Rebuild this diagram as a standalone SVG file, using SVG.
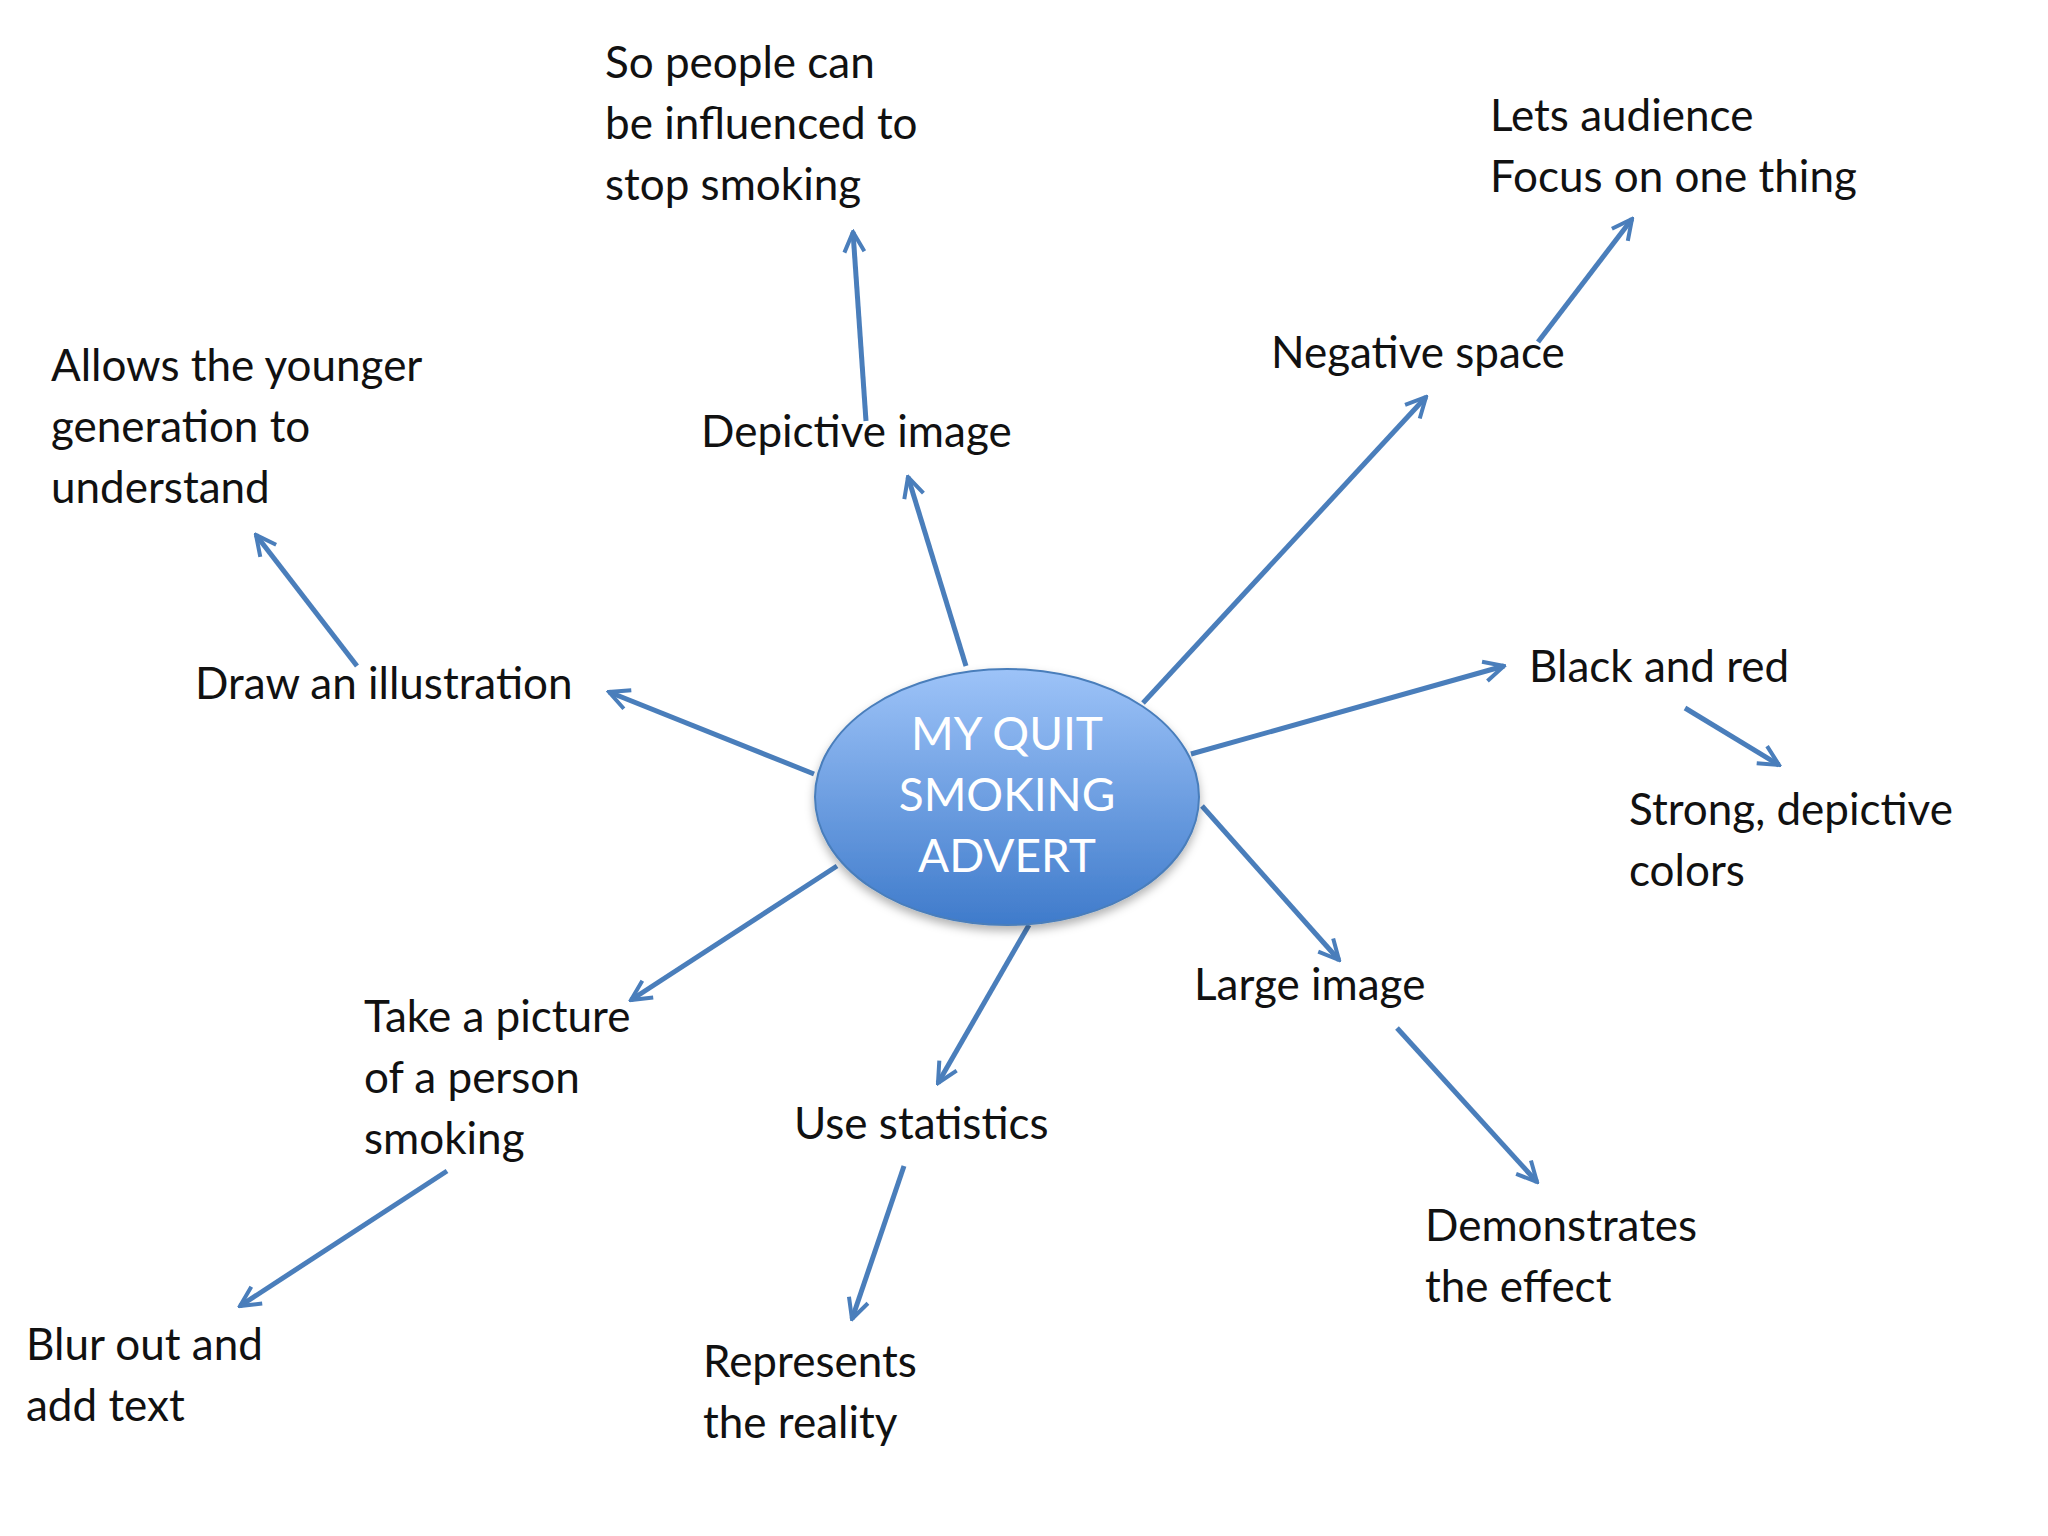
<svg xmlns="http://www.w3.org/2000/svg" width="2048" height="1536" viewBox="0 0 2048 1536">
<defs>
<marker id="ah" viewBox="0 0 10 10" refX="9" refY="5" markerWidth="5" markerHeight="5" orient="auto" markerUnits="strokeWidth">
<path d="M1,1 L9,5 L1,9" fill="none" stroke="#4A7EBB" stroke-width="1.6" stroke-linejoin="miter"/>
</marker>
<linearGradient id="g" x1="0" y1="0" x2="0" y2="1">
<stop offset="0" stop-color="#9DC3F8"/>
<stop offset="1" stop-color="#3F7BCB"/>
</linearGradient>
<filter id="sh" x="-20%" y="-20%" width="140%" height="150%"><feDropShadow dx="0" dy="5" stdDeviation="5" flood-opacity="0.3"/></filter>
</defs>
<style>
text{font-family:Lato,"Open Sans","Liberation Sans",sans-serif;font-size:44px;fill:#111}
.c{fill:#fff;text-anchor:middle;font-size:46px}
.l{stroke:#4A7EBB;stroke-width:5;fill:none;marker-end:url(#ah)}
</style>
<rect width="2048" height="1536" fill="#fff"/>
<g id="connectors">
<line class="l" x1="866" y1="421" x2="853" y2="232"/>
<line class="l" x1="966" y1="666" x2="908" y2="477"/>
<line class="l" x1="1538" y1="342" x2="1632" y2="219"/>
<line class="l" x1="1143" y1="703" x2="1426" y2="397"/>
<line class="l" x1="357" y1="666" x2="256" y2="535"/>
<line class="l" x1="814" y1="774" x2="609" y2="692"/>
<line class="l" x1="1191" y1="754" x2="1504" y2="666"/>
<line class="l" x1="1685" y1="708" x2="1779" y2="765"/>
<line class="l" x1="1202" y1="806" x2="1339" y2="960"/>
<line class="l" x1="1397" y1="1028" x2="1537" y2="1182"/>
<line class="l" x1="837" y1="866" x2="631" y2="1000"/>
<line class="l" x1="1029" y1="925" x2="938" y2="1083"/>
<line class="l" x1="904" y1="1166" x2="852" y2="1319"/>
<line class="l" x1="447" y1="1171" x2="240" y2="1306"/>
</g>
<g id="center">
<ellipse cx="1007" cy="797" rx="192" ry="128" fill="url(#g)" stroke="#4A7EBB" stroke-width="2" filter="url(#sh)"/>
<text class="c" x="1007" y="750">MY QUIT</text>
<text class="c" x="1007" y="811">SMOKING</text>
<text class="c" x="1007" y="872">ADVERT</text>
</g>
<g id="n1"><text x="605" y="78">So people can</text><text x="605" y="139">be influenced to</text><text x="605" y="200">stop smoking</text></g>
<g id="n2"><text x="1490" y="131">Lets audience</text><text x="1490" y="192">Focus on one thing</text></g>
<g id="n3"><text x="51" y="381">Allows the younger</text><text x="51" y="442">generation to</text><text x="51" y="503">understand</text></g>
<g id="n4"><text x="701" y="447">Depictive image</text></g>
<g id="n5"><text x="1271" y="368">Negative space</text></g>
<g id="n6"><text x="195" y="699">Draw an illustration</text></g>
<g id="n7"><text x="1529" y="682">Black and red</text></g>
<g id="n8"><text x="1629" y="825">Strong, depictive</text><text x="1629" y="886">colors</text></g>
<g id="n9"><text x="1194" y="1000">Large image</text></g>
<g id="n10"><text x="364" y="1032">Take a picture</text><text x="364" y="1093">of a person</text><text x="364" y="1154">smoking</text></g>
<g id="n11"><text x="794" y="1139">Use statistics</text></g>
<g id="n12"><text x="1425" y="1241">Demonstrates</text><text x="1425" y="1302">the effect</text></g>
<g id="n13"><text x="26" y="1360">Blur out and</text><text x="26" y="1421">add text</text></g>
<g id="n14"><text x="703" y="1377">Represents</text><text x="703" y="1438">the reality</text></g>
</svg>
